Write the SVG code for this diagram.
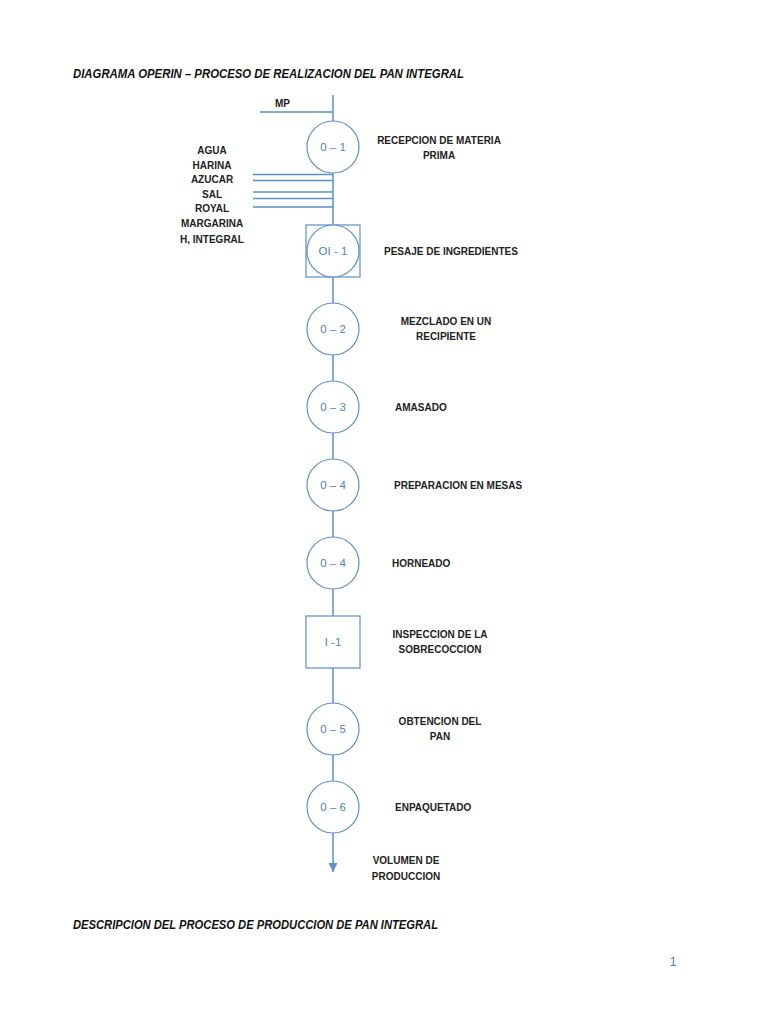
<svg xmlns="http://www.w3.org/2000/svg" width="768" height="1024" viewBox="0 0 768 1024">
<defs>
<style>
.title{font-family:"Liberation Sans",Arial,sans-serif;font-size:12.5px;font-weight:bold;font-style:italic;fill:#111}
.lbl{font-family:"Liberation Sans",Arial,sans-serif;font-size:10px;font-weight:bold;fill:#222}
.nt{font-family:"Liberation Sans",Arial,sans-serif;font-size:11.5px;fill:#4f81bd;text-anchor:middle}
.shape{fill:#fff;stroke:#5b8fc9;stroke-width:1.2}
.ln{stroke:#5b8fc9;stroke-width:1.5;fill:none}
</style>
<marker id="arr" viewBox="0 0 10 10" refX="10" refY="5" markerWidth="9" markerHeight="9" orient="auto" markerUnits="userSpaceOnUse">
<path d="M0,0 L10,5 L0,10 z" fill="#5b8fc9"/>
</marker>
</defs>
<rect width="768" height="1024" fill="#fff"/>
<text class="title" x="73" y="78" textLength="391" lengthAdjust="spacingAndGlyphs">DIAGRAMA OPERIN – PROCESO DE REALIZACION DEL PAN INTEGRAL</text>
<g id="connectors">
<line class="ln" x1="333" y1="95" x2="333" y2="121"/>
<line class="ln" x1="260" y1="112" x2="333" y2="112"/>
<line class="ln" x1="333" y1="173" x2="333" y2="225"/>
<line class="ln" x1="253" y1="174.5" x2="333" y2="174.5"/>
<line class="ln" x1="253" y1="180.5" x2="333" y2="180.5"/>
<line class="ln" x1="253" y1="192" x2="333" y2="192"/>
<line class="ln" x1="253" y1="198.5" x2="333" y2="198.5"/>
<line class="ln" x1="253" y1="207" x2="333" y2="207"/>
<line class="ln" x1="333" y1="277" x2="333" y2="303"/>
<line class="ln" x1="333" y1="355" x2="333" y2="381"/>
<line class="ln" x1="333" y1="433" x2="333" y2="459"/>
<line class="ln" x1="333" y1="511" x2="333" y2="537"/>
<line class="ln" x1="333" y1="589" x2="333" y2="616"/>
<line class="ln" x1="333" y1="668" x2="333" y2="703"/>
<line class="ln" x1="333" y1="755" x2="333" y2="781"/>
<line class="ln" x1="333" y1="833" x2="333" y2="872" marker-end="url(#arr)"/>
</g>
<g id="mp"><text class="lbl" x="275" y="107">MP</text></g>
<g id="ingredientes">
<text class="lbl" text-anchor="middle" x="212" y="154">AGUA</text>
<text class="lbl" text-anchor="middle" x="212" y="169">HARINA</text>
<text class="lbl" text-anchor="middle" x="212" y="183">AZUCAR</text>
<text class="lbl" text-anchor="middle" x="212" y="198">SAL</text>
<text class="lbl" text-anchor="middle" x="212" y="212">ROYAL</text>
<text class="lbl" text-anchor="middle" x="212" y="227">MARGARINA</text>
<text class="lbl" text-anchor="middle" x="212" y="243">H, INTEGRAL</text>
</g>
<g id="n01">
<circle class="shape" cx="333" cy="147" r="26"/>
<text class="nt" x="333" y="151">0 – 1</text>
<text class="lbl" text-anchor="middle" x="439" y="144">RECEPCION DE MATERIA</text>
<text class="lbl" text-anchor="middle" x="439" y="159">PRIMA</text>
</g>
<g id="nOI1">
<rect class="shape" x="306" y="225" width="54" height="52"/>
<circle class="shape" cx="333" cy="251" r="26"/>
<text class="nt" x="333" y="255">OI - 1</text>
<text class="lbl" x="384" y="255">PESAJE DE INGREDIENTES</text>
</g>
<g id="n02">
<circle class="shape" cx="333" cy="329" r="26"/>
<text class="nt" x="333" y="333">0 – 2</text>
<text class="lbl" text-anchor="middle" x="446" y="325">MEZCLADO EN UN</text>
<text class="lbl" text-anchor="middle" x="446" y="340">RECIPIENTE</text>
</g>
<g id="n03">
<circle class="shape" cx="333" cy="407" r="26"/>
<text class="nt" x="333" y="411">0 – 3</text>
<text class="lbl" x="395" y="411">AMASADO</text>
</g>
<g id="n04a">
<circle class="shape" cx="333" cy="485" r="26"/>
<text class="nt" x="333" y="489">0 – 4</text>
<text class="lbl" x="394" y="489">PREPARACION EN MESAS</text>
</g>
<g id="n04b">
<circle class="shape" cx="333" cy="563" r="26"/>
<text class="nt" x="333" y="567">0 – 4</text>
<text class="lbl" x="392" y="567">HORNEADO</text>
</g>
<g id="nI1">
<rect class="shape" x="306" y="616" width="54" height="52"/>
<text class="nt" x="333" y="646">I -1</text>
<text class="lbl" text-anchor="middle" x="440" y="638">INSPECCION DE LA</text>
<text class="lbl" text-anchor="middle" x="440" y="653">SOBRECOCCION</text>
</g>
<g id="n05">
<circle class="shape" cx="333" cy="729" r="26"/>
<text class="nt" x="333" y="733">0 – 5</text>
<text class="lbl" text-anchor="middle" x="440" y="725">OBTENCION DEL</text>
<text class="lbl" text-anchor="middle" x="440" y="740">PAN</text>
</g>
<g id="n06">
<circle class="shape" cx="333" cy="807" r="26"/>
<text class="nt" x="333" y="811">0 – 6</text>
<text class="lbl" x="395" y="811">ENPAQUETADO</text>
</g>
<g id="salida">
<text class="lbl" text-anchor="middle" x="406" y="864">VOLUMEN DE</text>
<text class="lbl" text-anchor="middle" x="406" y="880">PRODUCCION</text>
</g>
<text class="title" x="73" y="929" textLength="365" lengthAdjust="spacingAndGlyphs">DESCRIPCION DEL PROCESO DE PRODUCCION DE PAN INTEGRAL</text>
<text x="673" y="966" font-family="Liberation Sans,Arial,sans-serif" font-size="13" fill="#4f81bd" text-anchor="middle">1</text>
</svg>
